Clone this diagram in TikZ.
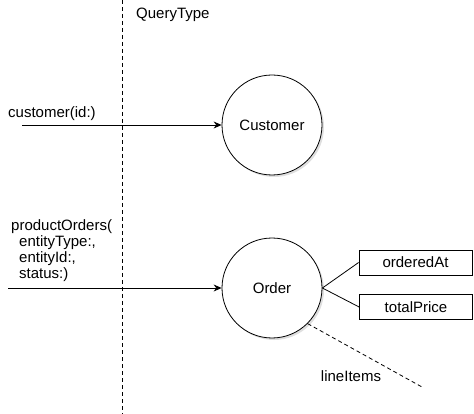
\documentclass[tikz,border=0pt]{standalone}
\usepackage{fontspec}
\setmainfont{Liberation Sans}
\usetikzlibrary{positioning,arrows.meta,shadows}

\begin{document}
\begin{tikzpicture}[
                x=1pt,y=-1pt,
                font=\fontsize{15}{16}\selectfont,
                ent/.style={circle,draw,thick,fill=white,minimum size=100pt,inner sep=0pt,
                    drop shadow={opacity=.25,shadow xshift=2pt,shadow yshift=-2pt}},
                fld/.style={draw,thick,fill=white,minimum width=113pt,minimum height=25pt,inner sep=0pt},
                txt/.style={inner sep=0pt},
                >={Stealth[length=8pt,width=7pt]}
            ]
                \useasboundingbox (0,0) rectangle (474,414);

                \coordinate (top) at (122,0);
                \coordinate (bot) at (122,414);
                \draw[thick,dash pattern=on 4pt off 3pt] (top) -- (bot);
                \node[txt,anchor=west] (qt) at (136,15) {QueryType};

                \node[ent] (cust) at (272,125) {Customer};
                \node[ent] (ord)  at (272,288) {Order};

                \node[fld] (oat) at (415.5,262.5) {orderedAt};
                \node[fld] (tpr) at (416,307) {totalPrice};

                \coordinate (cin) at (22,125);
                \coordinate (oin) at (8,288);
                \coordinate (li)  at (422,387);

                \node[txt,anchor=west] (cl) at (8,114) {customer(id:)};
                \node[txt,anchor=west,align=left] (ol) at (11,250.5)
                    {productOrders(\\\hspace*{8pt}entityType:,\\\hspace*{8pt}entityId:,\\\hspace*{8pt}status:)};
                \node[txt] (lil) at (351,376) {lineItems};

                \begin{scope}[thick]
                    \draw[->] (cin) -- (cust);
                    \draw[->] (oin) -- (ord);
                    \draw (ord.east) -- (oat.west);
                    \draw (ord.east) -- (tpr.west);
                    \draw[dash pattern=on 4pt off 3pt] (ord.-45) -- (li);
                \end{scope}
            \end{tikzpicture}
\end{document}
